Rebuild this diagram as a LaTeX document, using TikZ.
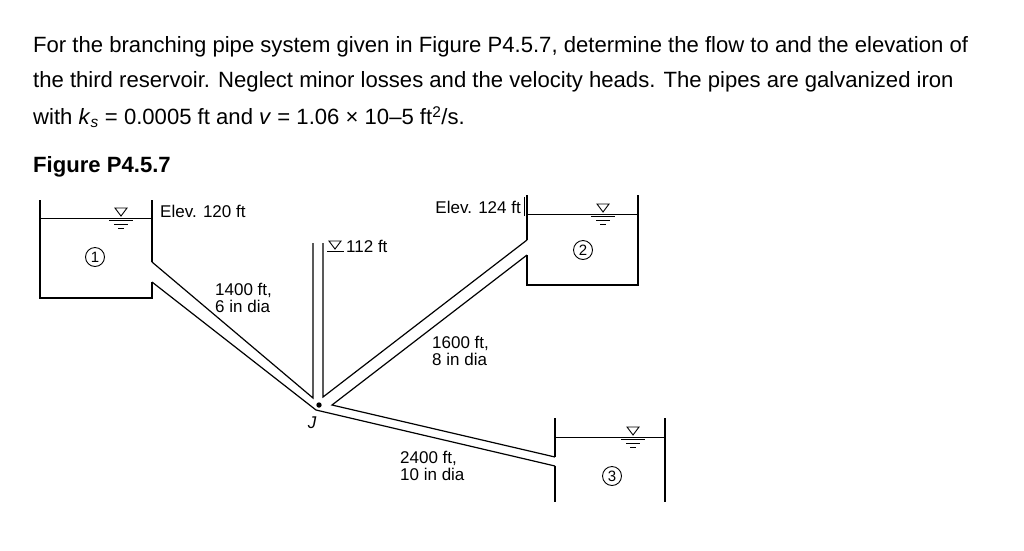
\documentclass[tikz,border=0pt]{standalone}
\usepackage{fontspec}
\setmainfont{Liberation Sans}
\begin{document}
\begin{tikzpicture}[x=1pt,y=-1pt,
  body/.style={font=\fontsize{22.1}{25}\selectfont,anchor=west,inner sep=0},
  lab/.style={font=\fontsize{17}{17}\selectfont,inner sep=0,align=left},
  wall/.style={line width=1.2pt},
  pipe/.style={line width=1.2pt},
  num/.style={circle,draw,line width=0.9pt,inner sep=1pt,minimum size=19pt,font=\fontsize{15}{15}\selectfont}]
\useasboundingbox (0,0) rectangle (1024,550);
\node[body] (t1) at (33,47) {For the branching pipe system given in Figure P4.5.7, determine the flow to and the elevation of};
\node[body] (t2) at (33,82) {the third reservoir. Neglect minor losses and the velocity heads. The pipes are galvanized iron};
\node[body] (t3) at (33,117) {with \textit{k}\textsubscript{\textit{s}} = 0.0005 ft and \textit{v} = 1.06 × 10–5 ft\textsuperscript{2}/s.};
\node[body,font=\fontsize{22.1}{25}\selectfont\bfseries] (fig) at (33,167) {Figure P4.5.7};
\def\wsym#1#2{%
  \draw[line width=0.9pt] (#1-6,#2-8) -- (#1+6,#2-8) -- (#1,#2) -- cycle;
  \draw[line width=0.8pt] (#1-12,#2+4) -- (#1+12,#2+4) (#1-7,#2+8) -- (#1+7,#2+8) (#1-3,#2+12) -- (#1+3,#2+12);}
% reservoir 1
\draw[wall] (40,200) -- (40,298) -- (152,298) -- (152,282);
\draw[wall] (152,262) -- (152,200);
\draw[line width=0.8pt] (40,218) -- (152,218);
\wsym{121}{216}
\node[num] (n1) at (95,257) {1};
% reservoir 2
\draw[wall] (527,240) -- (527,195);
\draw[wall] (527,255) -- (527,285) -- (638,285) -- (638,195);
\draw[line width=0.8pt] (527,214) -- (638,214);
\wsym{603}{212}
\node[num] (n2) at (583,250) {2};
% reservoir 3
\draw[wall] (555,457) -- (555,418);
\draw[wall] (555,466) -- (555,502);
\draw[wall] (665,418) -- (665,502);
\draw[line width=0.8pt] (555,437) -- (665,437);
\wsym{633}{435}
\node[num] (n3) at (612,476) {3};
% pipes
\coordinate (J) at (319,405);
\draw[pipe] (152,262) -- (313,398) -- (313,243);
\draw[pipe] (323,243) -- (323,397) -- (527,240);
\draw[pipe] (527,255) -- (332,405) -- (555,457);
\draw[pipe] (152,282) -- (316,410) -- (555,466);
\fill (J) circle (2.7pt);
\node[lab] (jl) at (312,423) {\itshape J};
% labels
\node[lab,anchor=west] (e1) at (160,211) {Elev. 120 ft};
\node[lab,anchor=east] (e2) at (521,207) {Elev. 124 ft};
\draw[line width=0.8pt] (524,197) -- (524,216);
\draw[line width=0.9pt] (329,241) -- (341,241) -- (335,249) -- cycle;
\draw[line width=0.8pt] (327,251) -- (344,251);
\node[lab,anchor=west] (e3) at (346,246) {112 ft};
\node[lab,anchor=north west] (p1) at (215,283) {1400 ft,\\6 in dia};
\node[lab,anchor=north west] (p2) at (432,336) {1600 ft,\\8 in dia};
\node[lab,anchor=north west] (p3) at (400,451) {2400 ft,\\10 in dia};
\end{tikzpicture}
\end{document}
